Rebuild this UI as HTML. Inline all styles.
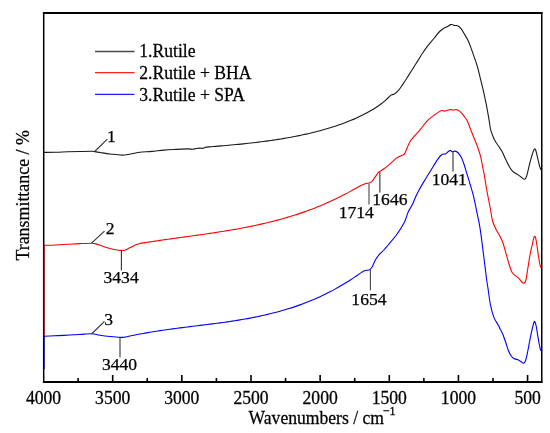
<!DOCTYPE html>
<html><head><meta charset="utf-8"><style>
html,body{margin:0;padding:0;background:#fff;}
body{width:550px;height:433px;overflow:hidden;}
svg{display:block;}
text{font-family:"Liberation Serif","Times New Roman",serif;font-size:17.6px;fill:#000;stroke:#000;stroke-width:0.25px;}
</style></head><body>
<svg width="550" height="433" viewBox="0 0 550 433">
<rect x="0" y="0" width="550" height="433" fill="#fff"/>
<g fill="none" stroke-linejoin="round" stroke-linecap="butt">
<path d="M43.80,152.40 C45.83,152.38 51.97,152.40 56.00,152.30 C60.03,152.20 64.00,151.93 68.00,151.80 C72.00,151.67 76.00,151.58 80.00,151.50 C84.00,151.42 89.50,151.28 92.00,151.30 C94.50,151.32 93.67,151.40 95.00,151.60 C96.33,151.80 98.50,152.25 100.00,152.50 C101.50,152.75 102.33,152.85 104.00,153.10 C105.67,153.35 108.00,153.77 110.00,154.00 C112.00,154.23 114.00,154.32 116.00,154.50 C118.00,154.68 120.00,155.10 122.00,155.10 C124.00,155.10 126.00,154.80 128.00,154.50 C130.00,154.20 132.00,153.68 134.00,153.30 C136.00,152.93 137.00,152.57 140.00,152.25 C143.00,151.93 148.00,151.76 152.00,151.40 C156.00,151.04 160.00,150.43 164.00,150.10 C168.00,149.77 172.00,149.60 176.00,149.40 C180.00,149.20 185.25,148.92 188.00,148.90 C190.75,148.88 191.17,149.37 192.50,149.30 C193.83,149.23 194.75,148.70 196.00,148.50 C197.25,148.30 198.92,148.12 200.00,148.10 C201.08,148.08 201.67,148.50 202.50,148.40 C203.33,148.30 204.42,147.71 205.00,147.50 C205.58,147.29 205.00,147.26 206.00,147.13 C207.00,147.01 209.33,146.87 211.00,146.74 C212.67,146.60 214.33,146.47 216.00,146.33 C217.67,146.19 219.33,146.06 221.00,145.92 C222.67,145.78 224.33,145.63 226.00,145.49 C227.67,145.34 229.33,145.19 231.00,145.04 C232.67,144.89 234.33,144.73 236.00,144.57 C237.67,144.41 239.33,144.25 241.00,144.08 C242.67,143.92 244.33,143.74 246.00,143.57 C247.67,143.39 249.33,143.21 251.00,143.02 C252.67,142.83 254.33,142.64 256.00,142.44 C257.67,142.24 259.33,142.04 261.00,141.82 C262.67,141.61 264.33,141.39 266.00,141.17 C267.67,140.94 269.33,140.71 271.00,140.47 C272.67,140.23 274.33,139.98 276.00,139.72 C277.67,139.47 279.33,139.20 281.00,138.93 C282.67,138.66 284.33,138.37 286.00,138.08 C287.67,137.79 289.33,137.49 291.00,137.18 C292.67,136.87 294.33,136.55 296.00,136.22 C297.67,135.89 299.33,135.54 301.00,135.19 C302.67,134.84 304.33,134.48 306.00,134.10 C307.67,133.73 309.33,133.34 311.00,132.94 C312.67,132.54 314.33,132.13 316.00,131.71 C317.67,131.29 319.33,130.85 321.00,130.41 C322.67,129.96 324.33,129.49 326.00,129.01 C327.67,128.53 329.33,128.04 331.00,127.53 C332.67,127.01 334.33,126.48 336.00,125.93 C337.67,125.38 339.33,124.81 341.00,124.21 C342.67,123.61 344.33,123.00 346.00,122.35 C347.67,121.71 349.33,121.05 351.00,120.35 C352.67,119.66 354.33,118.94 356.00,118.19 C357.67,117.44 359.33,116.66 361.00,115.85 C362.67,115.04 364.33,114.21 366.00,113.33 C367.67,112.45 369.33,111.56 371.00,110.59 C372.67,109.62 374.33,108.62 376.00,107.52 C377.67,106.43 379.33,105.28 381.00,104.01 C382.67,102.74 384.33,101.40 386.00,99.92 C387.67,98.44 389.67,96.07 391.00,95.14 C392.33,94.20 392.75,95.09 394.00,94.30 C395.25,93.51 397.10,91.97 398.50,90.40 C399.90,88.83 401.02,86.92 402.40,84.90 C403.78,82.88 405.33,80.57 406.80,78.30 C408.27,76.03 409.73,73.63 411.20,71.30 C412.67,68.97 414.13,66.63 415.60,64.30 C417.07,61.97 418.88,59.10 420.00,57.30 C421.12,55.50 420.95,55.48 422.30,53.50 C423.65,51.52 426.17,47.90 428.10,45.40 C430.03,42.90 431.98,40.82 433.90,38.50 C435.82,36.18 438.07,33.13 439.60,31.50 C441.13,29.87 441.75,29.55 443.10,28.70 C444.45,27.85 446.45,27.08 447.70,26.40 C448.95,25.72 449.73,24.87 450.60,24.60 C451.47,24.33 452.17,24.65 452.90,24.80 C453.63,24.95 454.20,25.33 455.00,25.50 C455.80,25.67 456.67,25.23 457.70,25.80 C458.73,26.37 460.05,27.47 461.20,28.90 C462.35,30.33 463.45,32.45 464.60,34.40 C465.75,36.35 466.93,38.07 468.10,40.60 C469.27,43.13 470.45,46.48 471.60,49.60 C472.75,52.72 473.97,56.23 475.00,59.30 C476.03,62.37 476.90,64.77 477.80,68.00 C478.70,71.23 479.53,75.18 480.40,78.70 C481.27,82.22 482.13,85.35 483.00,89.10 C483.87,92.85 484.88,97.75 485.60,101.20 C486.32,104.65 486.72,106.63 487.30,109.80 C487.88,112.97 488.57,117.00 489.10,120.20 C489.63,123.40 489.92,126.45 490.50,129.00 C491.08,131.55 491.78,133.40 492.60,135.50 C493.42,137.60 494.35,139.77 495.40,141.60 C496.45,143.43 497.75,144.77 498.90,146.50 C500.05,148.23 501.15,149.82 502.30,152.00 C503.45,154.18 504.65,157.20 505.80,159.60 C506.95,162.00 508.05,164.43 509.20,166.40 C510.35,168.37 511.30,170.07 512.70,171.40 C514.10,172.73 516.22,173.47 517.60,174.40 C518.98,175.33 519.85,176.18 521.00,177.00 C522.15,177.82 523.57,179.42 524.50,179.30 C525.43,179.18 525.80,178.65 526.60,176.30 C527.40,173.95 528.38,168.78 529.30,165.20 C530.22,161.62 531.28,157.43 532.10,154.80 C532.92,152.17 533.62,150.23 534.20,149.40 C534.78,148.57 535.02,148.32 535.60,149.80 C536.18,151.28 537.02,155.50 537.70,158.30 C538.38,161.10 539.13,164.65 539.70,166.60 C540.27,168.55 540.87,169.43 541.10,170.00" stroke="#1a1a1a" stroke-width="1.1"/>
<path d="M44.00,337.00 L44.00,245.30 C46.00,245.25 52.00,245.17 56.00,245.00 C60.00,244.83 64.00,244.53 68.00,244.30 C72.00,244.07 76.00,243.78 80.00,243.60 C84.00,243.42 89.33,243.15 92.00,243.20 C94.67,243.25 94.67,243.57 96.00,243.90 C97.33,244.23 98.67,244.73 100.00,245.20 C101.33,245.67 102.33,246.15 104.00,246.70 C105.67,247.25 108.00,247.98 110.00,248.50 C112.00,249.02 114.17,249.48 116.00,249.80 C117.83,250.12 119.50,250.33 121.00,250.40 C122.50,250.47 123.83,250.48 125.00,250.20 C126.17,249.92 126.75,249.33 128.00,248.70 C129.25,248.07 131.08,247.10 132.50,246.40 C133.92,245.70 135.25,244.99 136.50,244.50 C137.75,244.01 138.58,243.78 140.00,243.47 C141.42,243.16 143.33,242.92 145.00,242.65 C146.67,242.39 148.33,242.12 150.00,241.87 C151.67,241.61 153.33,241.35 155.00,241.10 C156.67,240.85 158.33,240.61 160.00,240.36 C161.67,240.12 163.33,239.88 165.00,239.64 C166.67,239.40 168.33,239.17 170.00,238.93 C171.67,238.70 173.33,238.47 175.00,238.24 C176.67,238.00 178.33,237.77 180.00,237.54 C181.67,237.32 183.33,237.09 185.00,236.86 C186.67,236.63 188.33,236.40 190.00,236.17 C191.67,235.94 193.33,235.71 195.00,235.48 C196.67,235.24 198.33,235.01 200.00,234.78 C201.67,234.54 203.33,234.30 205.00,234.06 C206.67,233.82 208.33,233.58 210.00,233.34 C211.67,233.09 213.33,232.84 215.00,232.59 C216.67,232.34 218.33,232.08 220.00,231.82 C221.67,231.56 223.33,231.29 225.00,231.02 C226.67,230.75 228.33,230.48 230.00,230.20 C231.67,229.92 233.33,229.63 235.00,229.34 C236.67,229.04 238.33,228.75 240.00,228.44 C241.67,228.13 243.33,227.82 245.00,227.50 C246.67,227.18 248.33,226.85 250.00,226.51 C251.67,226.18 253.33,225.83 255.00,225.48 C256.67,225.13 258.33,224.77 260.00,224.40 C261.67,224.02 263.33,223.64 265.00,223.25 C266.67,222.86 268.33,222.46 270.00,222.05 C271.67,221.64 273.33,221.22 275.00,220.78 C276.67,220.35 278.33,219.91 280.00,219.45 C281.67,218.99 283.33,218.53 285.00,218.05 C286.67,217.57 288.33,217.07 290.00,216.57 C291.67,216.06 293.33,215.54 295.00,215.01 C296.67,214.48 298.33,213.93 300.00,213.37 C301.67,212.81 303.33,212.23 305.00,211.64 C306.67,211.05 308.33,210.45 310.00,209.83 C311.67,209.20 313.33,208.57 315.00,207.92 C316.67,207.26 318.33,206.59 320.00,205.91 C321.67,205.22 323.33,204.52 325.00,203.80 C326.67,203.08 328.33,202.35 330.00,201.59 C331.67,200.83 333.33,200.06 335.00,199.27 C336.67,198.48 338.33,197.67 340.00,196.84 C341.67,196.01 343.33,195.16 345.00,194.29 C346.67,193.42 348.33,192.53 350.00,191.62 C351.67,190.71 353.33,189.78 355.00,188.83 C356.67,187.88 358.17,186.82 360.00,185.91 C361.83,185.01 364.50,183.87 366.00,183.40 C367.50,182.93 368.00,183.43 369.00,183.10 C370.00,182.77 371.00,182.38 372.00,181.40 C373.00,180.42 374.00,178.62 375.00,177.20 C376.00,175.78 377.17,173.88 378.00,172.90 C378.83,171.92 379.00,172.00 380.00,171.30 C381.00,170.60 382.67,169.63 384.00,168.70 C385.33,167.77 386.67,166.80 388.00,165.70 C389.33,164.60 390.67,163.32 392.00,162.10 C393.33,160.88 394.58,159.42 396.00,158.40 C397.42,157.38 399.12,156.70 400.50,156.00 C401.88,155.30 403.23,155.45 404.30,154.20 C405.37,152.95 406.00,150.50 406.90,148.50 C407.80,146.50 408.53,144.17 409.70,142.20 C410.87,140.23 412.05,138.93 413.90,136.70 C415.75,134.47 418.50,131.52 420.80,128.80 C423.10,126.08 425.38,122.73 427.70,120.40 C430.02,118.07 432.50,116.42 434.70,114.80 C436.90,113.18 439.28,111.32 440.90,110.70 C442.52,110.08 443.02,111.27 444.40,111.10 C445.78,110.93 447.70,109.88 449.20,109.70 C450.70,109.52 452.13,110.00 453.40,110.00 C454.67,110.00 455.77,109.52 456.80,109.70 C457.83,109.88 458.43,110.07 459.60,111.10 C460.77,112.13 462.53,114.28 463.80,115.90 C465.07,117.52 466.08,118.58 467.20,120.80 C468.32,123.02 469.33,126.25 470.50,129.20 C471.67,132.15 472.97,135.42 474.20,138.50 C475.43,141.58 476.82,144.63 477.90,147.70 C478.98,150.77 479.93,153.82 480.70,156.90 C481.47,159.98 481.88,163.12 482.50,166.20 C483.12,169.28 483.78,171.93 484.40,175.40 C485.02,178.87 485.58,183.40 486.20,187.00 C486.82,190.60 487.40,193.33 488.10,197.00 C488.80,200.67 489.63,204.92 490.40,209.00 C491.17,213.08 491.73,218.05 492.70,221.50 C493.67,224.95 494.98,227.23 496.20,229.70 C497.42,232.17 498.87,234.08 500.00,236.30 C501.13,238.52 502.00,240.13 503.00,243.00 C504.00,245.87 505.00,250.00 506.00,253.50 C507.00,257.00 508.00,260.87 509.00,264.00 C510.00,267.13 511.00,270.42 512.00,272.30 C513.00,274.18 513.87,274.30 515.00,275.30 C516.13,276.30 517.67,277.18 518.80,278.30 C519.93,279.42 520.93,281.18 521.80,282.00 C522.67,282.82 523.33,283.45 524.00,283.20 C524.67,282.95 525.17,282.95 525.80,280.50 C526.43,278.05 527.10,272.75 527.80,268.50 C528.50,264.25 529.25,259.00 530.00,255.00 C530.75,251.00 531.60,247.55 532.30,244.50 C533.00,241.45 533.65,237.82 534.20,236.70 C534.75,235.58 535.17,236.50 535.60,237.80 C536.03,239.10 536.35,241.63 536.80,244.50 C537.25,247.37 537.80,251.75 538.30,255.00 C538.80,258.25 539.35,261.87 539.80,264.00 C540.25,266.13 540.80,267.17 541.00,267.80" stroke="#ff0000" stroke-width="1.1"/>
<path d="M44.00,369.00 L44.00,336.30 C45.67,336.22 50.67,335.95 54.00,335.80 C57.33,335.65 60.67,335.57 64.00,335.40 C67.33,335.23 70.67,335.02 74.00,334.80 C77.33,334.58 81.00,334.27 84.00,334.10 C87.00,333.93 89.33,333.62 92.00,333.80 C94.67,333.98 97.00,334.75 100.00,335.20 C103.00,335.65 106.67,336.13 110.00,336.50 C113.33,336.87 117.50,337.30 120.00,337.40 C122.50,337.50 123.67,337.25 125.00,337.10 C126.33,336.95 126.50,336.82 128.00,336.50 C129.50,336.18 132.00,335.61 134.00,335.20 C136.00,334.79 138.17,334.39 140.00,334.04 C141.83,333.70 143.33,333.42 145.00,333.12 C146.67,332.82 148.33,332.53 150.00,332.25 C151.67,331.97 153.33,331.70 155.00,331.43 C156.67,331.17 158.33,330.91 160.00,330.66 C161.67,330.41 163.33,330.17 165.00,329.93 C166.67,329.69 168.33,329.46 170.00,329.23 C171.67,329.00 173.33,328.77 175.00,328.55 C176.67,328.33 178.33,328.12 180.00,327.90 C181.67,327.69 183.33,327.48 185.00,327.27 C186.67,327.06 188.33,326.86 190.00,326.65 C191.67,326.44 193.33,326.24 195.00,326.04 C196.67,325.83 198.33,325.63 200.00,325.42 C201.67,325.22 203.33,325.01 205.00,324.80 C206.67,324.59 208.33,324.38 210.00,324.17 C211.67,323.96 213.33,323.75 215.00,323.53 C216.67,323.31 218.33,323.09 220.00,322.86 C221.67,322.63 223.33,322.40 225.00,322.17 C226.67,321.93 228.33,321.69 230.00,321.44 C231.67,321.20 233.33,320.94 235.00,320.68 C236.67,320.42 238.33,320.15 240.00,319.87 C241.67,319.60 243.33,319.31 245.00,319.02 C246.67,318.73 248.33,318.43 250.00,318.11 C251.67,317.80 253.33,317.48 255.00,317.15 C256.67,316.81 258.33,316.47 260.00,316.11 C261.67,315.76 263.33,315.39 265.00,315.01 C266.67,314.63 268.33,314.24 270.00,313.83 C271.67,313.42 273.33,313.01 275.00,312.57 C276.67,312.14 278.33,311.69 280.00,311.22 C281.67,310.76 283.33,310.28 285.00,309.79 C286.67,309.29 288.33,308.78 290.00,308.25 C291.67,307.72 293.33,307.17 295.00,306.61 C296.67,306.04 298.33,305.46 300.00,304.86 C301.67,304.26 303.33,303.64 305.00,303.00 C306.67,302.36 308.33,301.70 310.00,301.02 C311.67,300.33 313.33,299.63 315.00,298.91 C316.67,298.18 318.33,297.44 320.00,296.67 C321.67,295.90 323.33,295.11 325.00,294.30 C326.67,293.48 328.33,292.64 330.00,291.78 C331.67,290.92 333.33,290.03 335.00,289.12 C336.67,288.21 338.33,287.27 340.00,286.31 C341.67,285.34 343.33,284.35 345.00,283.33 C346.67,282.32 348.33,281.27 350.00,280.20 C351.67,279.12 353.33,278.02 355.00,276.89 C356.67,275.76 358.43,274.45 360.00,273.41 C361.57,272.38 363.08,271.24 364.40,270.70 C365.72,270.16 366.93,270.42 367.90,270.20 C368.87,269.98 369.40,270.12 370.20,269.40 C371.00,268.68 371.82,267.52 372.70,265.90 C373.58,264.28 374.35,261.65 375.50,259.70 C376.65,257.75 378.22,255.82 379.60,254.20 C380.98,252.58 382.38,251.53 383.80,250.00 C385.22,248.47 386.03,247.45 388.10,245.00 C390.17,242.55 393.50,239.07 396.20,235.30 C398.90,231.53 402.28,226.32 404.30,222.40 C406.32,218.48 406.95,214.77 408.30,211.80 C409.65,208.83 411.18,207.07 412.40,204.60 C413.62,202.13 414.58,199.27 415.60,197.00 C416.62,194.73 417.12,193.57 418.50,191.00 C419.88,188.43 421.85,185.02 423.90,181.60 C425.95,178.18 428.50,174.20 430.80,170.50 C433.10,166.80 435.85,162.07 437.70,159.40 C439.55,156.73 440.63,155.42 441.90,154.50 C443.17,153.58 444.27,154.35 445.30,153.90 C446.33,153.45 447.28,152.38 448.10,151.80 C448.92,151.22 449.50,150.40 450.20,150.40 C450.90,150.40 451.50,151.68 452.30,151.80 C453.10,151.92 454.08,150.98 455.00,151.10 C455.92,151.22 456.75,151.47 457.80,152.50 C458.85,153.53 460.27,155.35 461.30,157.30 C462.33,159.25 463.08,161.53 464.00,164.20 C464.92,166.87 465.98,170.63 466.80,173.30 C467.62,175.97 468.37,178.42 468.90,180.20 C469.43,181.98 469.23,181.33 470.00,184.00 C470.77,186.67 472.35,191.48 473.50,196.20 C474.65,200.92 475.87,207.30 476.90,212.30 C477.93,217.30 478.85,221.18 479.70,226.20 C480.55,231.22 481.23,236.63 482.00,242.40 C482.77,248.17 483.53,254.65 484.30,260.80 C485.07,266.95 485.97,274.60 486.60,279.30 C487.23,284.00 487.47,284.77 488.10,289.00 C488.73,293.23 489.43,299.97 490.40,304.70 C491.37,309.43 492.55,313.93 493.90,317.40 C495.25,320.87 497.48,323.62 498.50,325.50 C499.52,327.38 499.28,327.25 500.00,328.70 C500.72,330.15 501.88,332.02 502.80,334.20 C503.72,336.38 504.58,339.13 505.50,341.80 C506.42,344.47 507.37,347.88 508.30,350.20 C509.23,352.52 510.18,354.32 511.10,355.70 C512.02,357.08 512.77,357.85 513.80,358.50 C514.83,359.15 516.13,359.10 517.30,359.60 C518.47,360.10 519.77,360.88 520.80,361.50 C521.83,362.12 522.70,363.47 523.50,363.30 C524.30,363.13 524.90,362.47 525.60,360.50 C526.30,358.53 527.00,354.83 527.70,351.50 C528.40,348.17 529.12,343.95 529.80,340.50 C530.48,337.05 531.12,333.80 531.80,330.80 C532.48,327.80 533.38,324.00 533.90,322.50 C534.42,321.00 534.50,321.12 534.90,321.80 C535.30,322.48 535.77,323.95 536.30,326.60 C536.83,329.25 537.45,334.00 538.10,337.70 C538.75,341.40 539.67,346.62 540.20,348.80 C540.73,350.98 541.12,350.47 541.30,350.80" stroke="#0000ff" stroke-width="1.1"/>
</g>
<g stroke="#000" fill="none">
<line x1="42.9" y1="13" x2="542.5" y2="13" stroke-width="2"/>
<line x1="42.9" y1="382" x2="542.5" y2="382" stroke-width="2"/>
<line x1="43.7" y1="12" x2="43.7" y2="383" stroke-width="1.5"/>
<line x1="541.75" y1="12" x2="541.75" y2="383" stroke-width="1.5"/>
</g>
<g stroke="#000" stroke-width="1.6">
<line x1="78.11" y1="381" x2="78.11" y2="378.00"/><line x1="112.68" y1="381" x2="112.68" y2="375.00"/><line x1="147.25" y1="381" x2="147.25" y2="378.00"/><line x1="181.83" y1="381" x2="181.83" y2="375.00"/><line x1="216.41" y1="381" x2="216.41" y2="378.00"/><line x1="250.98" y1="381" x2="250.98" y2="375.00"/><line x1="285.56" y1="381" x2="285.56" y2="378.00"/><line x1="320.13" y1="381" x2="320.13" y2="375.00"/><line x1="354.71" y1="381" x2="354.71" y2="378.00"/><line x1="389.28" y1="381" x2="389.28" y2="375.00"/><line x1="423.86" y1="381" x2="423.86" y2="378.00"/><line x1="458.43" y1="381" x2="458.43" y2="375.00"/><line x1="493.00" y1="381" x2="493.00" y2="378.00"/><line x1="527.58" y1="381" x2="527.58" y2="375.00"/>
</g>
<path d="M44.0,245.4 L44.0,336.5" stroke="#f00" stroke-width="1.6" opacity="0.3" fill="none"/>
<path d="M44.0,336.5 L44.0,369" stroke="#00f" stroke-width="1.6" opacity="0.34" fill="none"/>
<g stroke-width="1.2">
<line x1="95" y1="51.5" x2="134.5" y2="51.5" stroke="#4a4a4a" stroke-width="1.3"/>
<line x1="95" y1="72.6" x2="134.5" y2="72.6" stroke="#ff2020"/>
<line x1="95" y1="94.4" x2="134.5" y2="94.4" stroke="#2020ff"/>
</g>
<g stroke="#333" stroke-width="1.1" fill="none">
<line x1="94.7" y1="151.5" x2="107.3" y2="139.2"/>
<line x1="91.5" y1="243.2" x2="104.5" y2="231.1"/>
<line x1="91.5" y1="334" x2="104.5" y2="321.4"/>
<line x1="121.4" y1="250.6" x2="121.4" y2="270.5" stroke="#333"/>
<line x1="120" y1="337.5" x2="120" y2="357.3" stroke="#555" stroke-width="1.3"/>
<line x1="369" y1="183.5" x2="369" y2="204.5" stroke="#777" stroke-width="1.5"/>
<line x1="379.8" y1="171.8" x2="379.8" y2="192.6" stroke="#666" stroke-width="1.5"/>
<line x1="370.4" y1="269.4" x2="370.4" y2="290.2" stroke="#444"/>
<line x1="453" y1="152" x2="453" y2="171.6" stroke="#666" stroke-width="1.5"/>
</g>
<text transform="translate(43.53,403.50) scale(1,1.060)" text-anchor="middle">4000</text>
<text transform="translate(112.68,403.50) scale(1,1.060)" text-anchor="middle">3500</text>
<text transform="translate(181.83,403.50) scale(1,1.060)" text-anchor="middle">3000</text>
<text transform="translate(250.98,403.50) scale(1,1.060)" text-anchor="middle">2500</text>
<text transform="translate(320.13,403.50) scale(1,1.060)" text-anchor="middle">2000</text>
<text transform="translate(389.28,403.50) scale(1,1.060)" text-anchor="middle">1500</text>
<text transform="translate(458.43,403.50) scale(1,1.060)" text-anchor="middle">1000</text>
<text transform="translate(527.58,403.50) scale(1,1.060)" text-anchor="middle">500</text>
<text transform="translate(248.60,423.80) scale(1,1.060)">Wavenumbers / cm<tspan dx="-1.2" dy="-8.6" font-size="12px">−1</tspan></text>
<text transform="translate(29.2,260.6) rotate(-90)" style="font-size:17.9px">Transmittance / %</text>
<text transform="translate(139.30,57.10) scale(1,1.030)">1.Rutile</text>
<text transform="translate(139.30,78.90) scale(1,1.030)">2.Rutile + BHA</text>
<text transform="translate(139.30,100.70) scale(1,1.030)">3.Rutile + SPA</text>
<text transform="translate(107.00,141.80) scale(1,1.000)">1</text>
<text transform="translate(105.70,234.00) scale(1,1.000)">2</text>
<text transform="translate(104.30,324.60) scale(1,1.000)">3</text>
<text transform="translate(103.50,282.50) scale(1,1.000)">3434</text>
<text transform="translate(101.90,369.50) scale(1,1.000)">3440</text>
<text transform="translate(338.65,217.70) scale(1,1.000)">1714</text>
<text transform="translate(372.30,205.10) scale(1,1.000)">1646</text>
<text transform="translate(351.35,305.10) scale(1,1.000)">1654</text>
<text transform="translate(431.65,185.20) scale(1,1.000)">1041</text>
</svg>
</body></html>
